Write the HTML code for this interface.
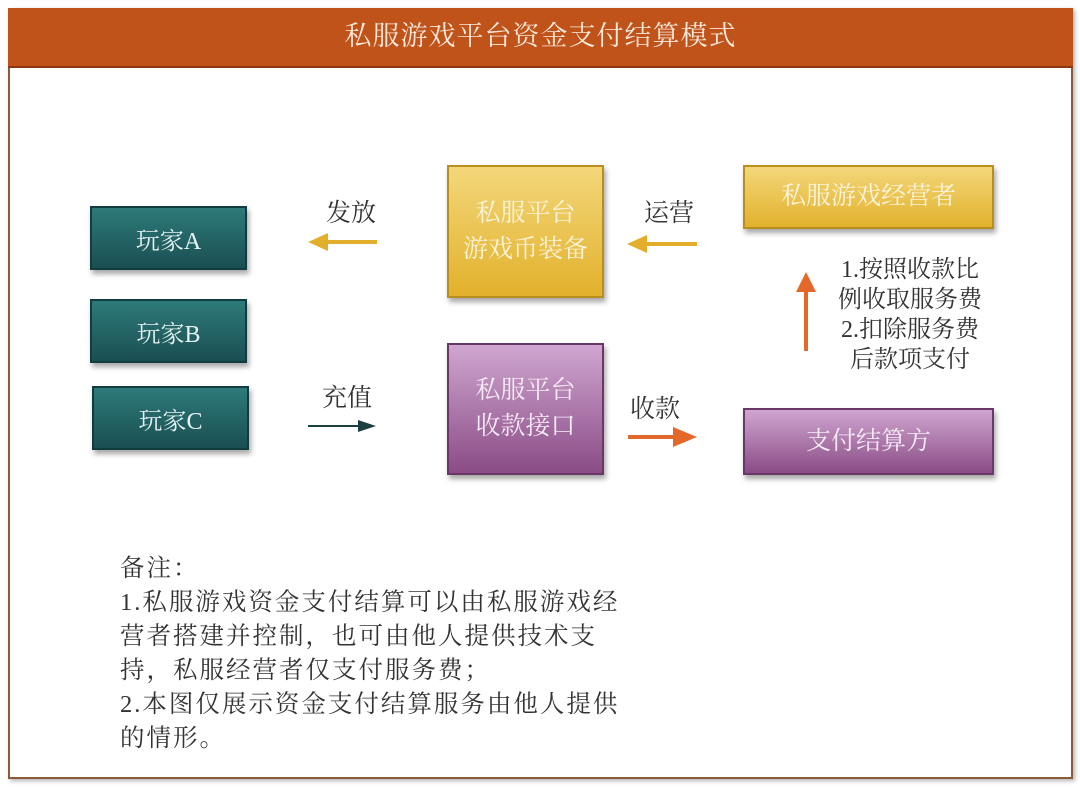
<!DOCTYPE html>
<html><head><meta charset="utf-8"><style>
body{margin:0;width:1080px;height:788px;background:#fff;position:relative;overflow:hidden;font-family:"Liberation Serif","Noto Serif CJK SC",serif}
.a{position:absolute}
.frame{left:8px;top:8px;width:1061px;height:767px;border:2px solid #8a5a3a;box-shadow:2px 2px 4px rgba(0,0,0,.3)}
.hdr{left:8px;top:8px;width:1065px;height:58px;background:#c0531a;border-bottom:2px solid #8a3a10;color:#fbe9dc;font-size:27px;text-align:center;line-height:56px;letter-spacing:1px}
.box{display:flex;align-items:center;justify-content:center;text-align:center;color:#eef;box-shadow:2px 4px 5px rgba(0,0,0,.35);box-sizing:border-box}
.teal{background:linear-gradient(#2e7a7a,#1a4f52);border:2px solid #123d40;font-size:24px;color:#e6f3f3}
.yel{background:linear-gradient(#f3d77a,#e2b12c);border:2px solid #b88f1c;font-size:25px;color:#fbf4dc;line-height:36px}
.pur{background:linear-gradient(#cfa6cf,#8a4c86);border:2px solid #6a3766;font-size:25px;color:#f7ecf7;line-height:36px}
.lbl{font-size:25px;color:#333}
</style></head><body>
<div class="a frame"></div>
<div class="a hdr">私服游戏平台资金支付结算模式</div>

<div class="a box teal" style="left:90px;top:206px;width:157px;height:64px">玩家A</div>
<div class="a box teal" style="left:90px;top:299px;width:157px;height:64px">玩家B</div>
<div class="a box teal" style="left:92px;top:386px;width:157px;height:64px">玩家C</div>

<div class="a box yel" style="left:447px;top:165px;width:157px;height:133px">私服平台<br>游戏币装备</div>
<div class="a box pur" style="left:447px;top:343px;width:157px;height:132px">私服平台<br>收款接口</div>
<div class="a box yel" style="left:743px;top:165px;width:251px;height:64px">私服游戏经营者</div>
<div class="a box pur" style="left:743px;top:408px;width:251px;height:67px">支付结算方</div>

<div class="a lbl" style="left:326px;top:193px">发放</div>
<div class="a lbl" style="left:644px;top:193px">运营</div>
<div class="a lbl" style="left:322px;top:378px">充值</div>
<div class="a lbl" style="left:630px;top:389px">收款</div>

<svg class="a" style="left:0;top:0" width="1080" height="788">
<line x1="377" y1="242" x2="325" y2="242" stroke="#e2ae2c" stroke-width="4"/><polygon points="308,242 328,233 328,251" fill="#e2ae2c"/>
<line x1="697" y1="244" x2="645" y2="244" stroke="#e2ae2c" stroke-width="4"/><polygon points="627,244 647,235 647,253" fill="#e2ae2c"/>
<line x1="308" y1="426" x2="362" y2="426" stroke="#1a3f40" stroke-width="2"/><polygon points="376,426 358,420 358,432" fill="#1a3f40"/>
<line x1="628" y1="437" x2="675" y2="437" stroke="#e4682a" stroke-width="4"/><polygon points="697,437 673,427 673,447" fill="#e4682a"/>
<line x1="806" y1="351" x2="806" y2="290" stroke="#e4682a" stroke-width="4"/><polygon points="806,272 796,292 816,292" fill="#e4682a"/>
</svg>

<div class="a lbl" style="left:830px;top:255px;width:160px;text-align:center;font-size:24px;line-height:30px">1.按照收款比<br>例收取服务费<br>2.扣除服务费<br>后款项支付</div>

<div class="a" style="left:120px;top:552px;font-size:24.5px;line-height:34px;letter-spacing:2px;color:#333;white-space:nowrap">备注：<br>1.私服游戏资金支付结算可以由私服游戏经<br>营者搭建并控制，也可由他人提供技术支<br>持，私服经营者仅支付服务费；<br>2.本图仅展示资金支付结算服务由他人提供<br>的情形。</div>
</body></html>
